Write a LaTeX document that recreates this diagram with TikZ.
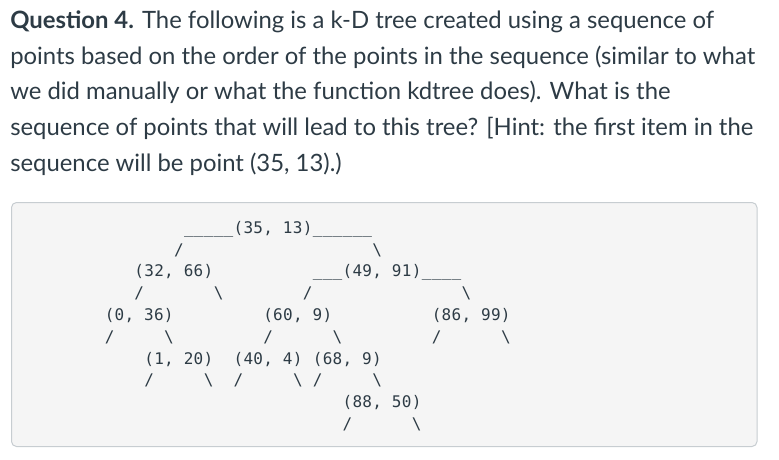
\documentclass[tikz,border=0pt]{standalone}
\usepackage{fontspec}
\setmainfont{Lato}
\newfontfamily\codefont{DejaVu Sans Mono}[LetterSpace=1.8]
\definecolor{encre}{HTML}{2D3B45}
\definecolor{fond}{HTML}{F5F5F5}
\definecolor{bord}{HTML}{C7CDD1}
\begin{document}
\begin{tikzpicture}[x=0.75pt,y=-0.75pt]
    \tikzstyle{every node}=[inner sep=0pt,anchor=base west,text=encre]
    \tikzstyle{ligne}=[font=\fontsize{17.9pt}{20pt}\selectfont]
    \tikzstyle{code}=[font=\codefont\fontsize{12pt}{14pt}\selectfont]
    \tikzstyle{boite}=[fill=fond,draw=bord,line width=0.75pt,rounded corners=3.75pt]
    \useasboundingbox (0,0) rectangle (779,460);
    % question
    \node[ligne] (q1) at (10,28.3) {\textbf{Question 4.} The following is a k-D tree created using a sequence of};
    \node[ligne] (q2) at (10,64.1) {points based on the order of the points in the sequence (similar to what};
    \node[ligne] (q3) at (10,99.9) {we did manually or what the function kdtree does). What is the};
    \node[ligne] (q4) at (10,135.7) {sequence of points that will lead to this tree? [Hint: the first item in the};
    \node[ligne] (q5) at (10,171.5) {sequence will be point (35, 13).)};
    % code block
    \draw[boite] (11.5,202.5) rectangle (757,446.5);
    \foreach \c/\r/\nom/\txt in {13/0/n3513/{(35, 13)},
                                 3/2/n3266/{(32, 66)},
                                 24/2/n4991/{(49, 91)},
                                 0/4/n036/{(0, 36)},
                                 16/4/n609/{(60, 9)},
                                 33/4/n8699/{(86, 99)},
                                 4/6/n120/{(1, 20)},
                                 13/6/n404/{(40, 4)},
                                 21/6/n689/{(68, 9)},
                                 24/8/n8850/{(88, 50)}}
        \node[code] (\nom) at ({104.5+9.91*\c},{233.3+21.8*\r}) {\txt};
    % underscores
    \foreach \c/\r/\nom/\txt in {8/0/u1/{\_\_\_\_\_},
                                 21/0/u2/{\_\_\_\_\_\_},
                                 21/2/u3/{\_\_\_},
                                 32/2/u4/{\_\_\_\_}}
        \node[code] (\nom) at ({104.5+9.91*\c},{233.3+21.8*\r}) {\txt};
    % slashes
    \foreach \c/\r [count=\i] in {7/1,3/3,20/3,0/5,16/5,33/5,4/7,13/7,21/7,24/9}
        \node[code] (g\i) at ({104.5+9.91*\c},{233.3+21.8*\r}) {/};
    \foreach \c/\r [count=\i] in {27/1,11/3,36/3,6/5,23/5,40/5,10/7,19/7,27/7,31/9}
        \node[code] (d\i) at ({104.5+9.91*\c},{233.3+21.8*\r}) {\textbackslash};
\end{tikzpicture}
\end{document}
